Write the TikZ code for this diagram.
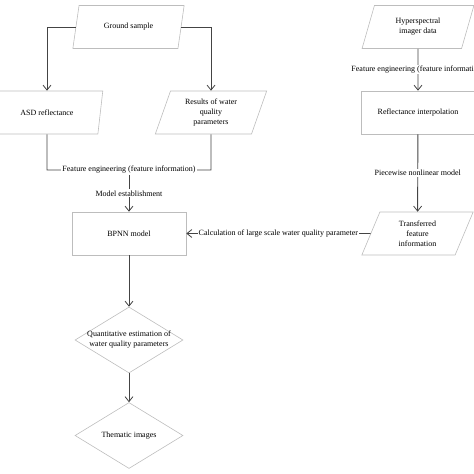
\documentclass[tikz,border=0pt]{standalone}
\usepackage{fontspec}
\setmainfont{Liberation Serif}
\usetikzlibrary{shapes.geometric,arrows.meta}
\definecolor{boxgray}{HTML}{BDBDBD}
\definecolor{flowgray}{HTML}{444444}
\tikzset{
  txt/.style={font=\fontsize{8}{10}\selectfont, align=center},
  iobox/.style={txt, trapezium, trapezium left angle=71, trapezium right angle=109,
    trapezium stretches=true, draw=boxgray, line width=0.6pt,
    minimum width=112pt, minimum height=43pt, inner sep=1pt},
  procbox/.style={txt, rectangle, draw=boxgray, line width=0.6pt,
    minimum width=114pt, minimum height=43pt},
  decbox/.style={txt, diamond, draw=boxgray, line width=0.6pt, shape aspect=1.636,
    minimum width=108pt, minimum height=66pt, inner xsep=-4pt, inner ysep=0pt},
  flow/.style={draw=flowgray, line width=0.9pt},
  arr/.style={flow, -{Straight Barb[length=5pt,width=8pt,line width=0.8pt]}},
  lbl/.style={txt, fill=white, inner sep=1pt},
}
\begin{document}
\begin{tikzpicture}[x=1pt,y=-1pt]
  \useasboundingbox (0,0) rectangle (474,474);
  \clip (0,0) rectangle (474,474);
  %% left branch
  \node[iobox] (ground) at (128.5,27) {Ground sample};
  \node[iobox] (asd) at (47,112.5) {ASD reflectance};
  \node[iobox] (results) at (211,112.5) {Results of water\\quality\\parameters};
  \coordinate (join) at (129,170);
  \node[procbox] (bpnn) at (129,233.5) {BPNN model};
  \node[decbox] (quant) at (129,340) {Quantitative estimation of\\water quality parameters};
  \node[decbox] (thematic) at (129,435.5) {Thematic images};
  %% right branch
  \node[iobox] (hyper) at (418,27) {Hyperspectral\\imager data};
  \node[procbox] (interp) at (418,112.5) {Reflectance interpolation};
  \node[iobox] (transfer) at (417.5,233.5) {Transferred\\feature\\information};
  %%
  \draw[arr] (ground.west) -| (asd);
  \draw[arr] (ground.east) -| (results);
  \draw[flow] (asd) -- (asd |- join) -- (results |- join) -- (results);
  \node[lbl] (fe) at (join) {Feature engineering (feature information)};
  \draw[arr] (fe) -- node[lbl] {Model establishment} (bpnn);
  \draw[arr] (bpnn) -- (quant);
  \draw[arr] (quant) -- (thematic);
  \draw[arr] (hyper) -- node[lbl] {Feature engineering (feature information)} (interp);
  \draw[arr] (interp) -- node[lbl] {Piecewise nonlinear model} (transfer);
  \draw[arr] (transfer) -- node[lbl] {Calculation of large scale water quality parameter} (bpnn);
\end{tikzpicture}
\end{document}
